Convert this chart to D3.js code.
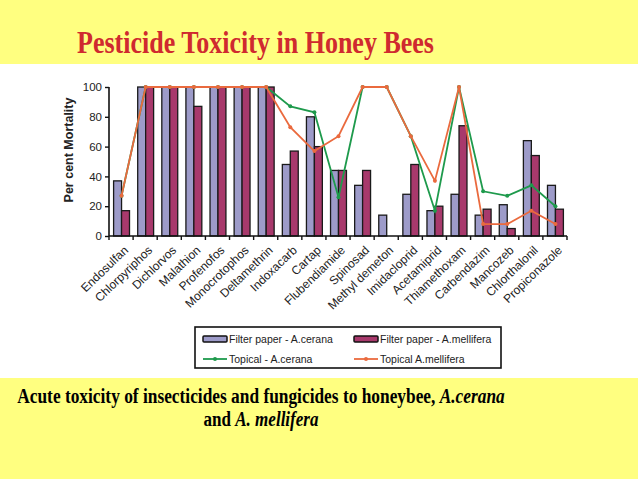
<!DOCTYPE html>
<html><head><meta charset="utf-8">
<script src="https://cdn.jsdelivr.net/npm/d3@7"></script>
<style>body{margin:0;background:#fff}svg{display:block}</style>
</head><body>
<svg id="c" width="638" height="479"></svg>
<script>
const categories = ["Endosulfan","Chlorpyriphos","Dichlorvos","Malathion","Profenofos","Monocrotophos","Deltamethrin","Indoxacarb","Cartap","Flubendiamide","Spinosad","Methyl demeton","Imidacloprid","Acetamiprid","Thiamethoxam","Carbendazim","Mancozeb","Chlorthalonil","Propiconazole"];
const filterCerana    = [37,100,100,100,100,100,100,48,80,44,34,14,28,17,28,14,21,64,34];
const filterMellifera = [17,100,100,87,100,100,100,57,60,44,44,0,48,20,74,18,5,54,18];
const topicalCerana   = [27,100,100,100,100,100,100,87,83,26,100,100,67,17,100,30,27,34,20];
const topicalMellifera= [27,100,100,100,100,100,100,73,57,67,100,100,67,37,100,8,8,17,8];
const yTicks = [0,20,40,60,80,100];
const legendLabels = ["Filter paper - A.cerana","Filter paper - A.mellifera","Topical - A.cerana","Topical A.mellifera"];

const C_PUR="#9d9bc9", C_MAG="#a8396c", C_GRN="#1e9a4c", C_ORG="#ea6a3e", YEL="#ffff80";
const svg = d3.select("#c");
const W=638,H=479;

svg.append("rect").attr("x",0).attr("y",0).attr("width",W).attr("height",64).attr("fill",YEL);
svg.append("rect").attr("x",0).attr("y",378).attr("width",W).attr("height",H-378).attr("fill",YEL);

function squeezed(cx, by, size, color, parts, targetW){
  const g = svg.append("g");
  const t = g.append("text").attr("x",0).attr("y",0).attr("text-anchor","middle")
    .attr("font-family","Liberation Serif").attr("font-weight","bold").attr("font-size",size).attr("fill",color);
  parts.forEach(p=>{ const s=t.append("tspan").text(p.t); if(p.i) s.attr("font-style","italic"); });
  const w = t.node().getComputedTextLength();
  g.attr("transform",`translate(${cx},${by}) scale(${targetW/w},1)`);
}
squeezed(255.5,53,32,"#cf2a2f",[{t:"Pesticide Toxicity in Honey Bees"}],357);
squeezed(261,403,22,"#000",[{t:"Acute toxicity of insecticides and fungicides to honeybee, "},{t:"A.cerana",i:true}],488);
squeezed(261,426,22,"#000",[{t:"and "},{t:"A. mellifera",i:true}],115);

const x0=109, x1=567, yBase=236, yTop=87;
const x = d3.scaleBand().domain(categories).range([x0,x1]).padding(0);
const y = d3.scaleLinear().domain([0,100]).range([yBase,yTop]);
const bw = x.bandwidth();
const barW = bw*0.33;

const g = svg.append("g");
const bars = g.append("g");
categories.forEach((c,i)=>{
  const cx = x(c)+bw/2+0.5;
  [[filterCerana[i],C_PUR,cx-barW],[filterMellifera[i],C_MAG,cx]].forEach(([v,col,bx])=>{
    if(v<=0) return;
    bars.append("rect").attr("x",bx).attr("y",y(v)).attr("width",barW).attr("height",y(0)-y(v))
      .attr("fill",col).attr("stroke","#1a1a1a").attr("stroke-width",1.3);
  });
});

const line = d3.line().x((d,i)=>x(categories[i])+bw/2+0.5).y(d=>y(d));
[[topicalCerana,C_GRN],[topicalMellifera,C_ORG]].forEach(([arr,col])=>{
  g.append("path").datum(arr).attr("d",line).attr("fill","none").attr("stroke",col).attr("stroke-width",1.8);
  g.selectAll(null).data(arr).enter().append("circle")
    .attr("cx",(d,i)=>x(categories[i])+bw/2+0.5).attr("cy",d=>y(d)).attr("r",2).attr("fill",col);
});

const yAxis = d3.axisLeft(y).tickValues(yTicks).tickSize(4).tickPadding(3);
const ya = svg.append("g").attr("transform",`translate(${x0},0)`).call(yAxis);
ya.select(".domain").attr("stroke","#111").attr("stroke-width",1.6).attr("d",`M-0,${yBase}V${yTop}`);
ya.selectAll(".tick line").attr("stroke","#111").attr("stroke-width",1.4);
ya.selectAll(".tick text").attr("font-family","Liberation Sans").attr("font-size",11.5).attr("fill","#222");

const xa = svg.append("g").attr("transform",`translate(0,${yBase})`);
xa.append("line").attr("x1",x0).attr("x2",x1).attr("y1",0).attr("y2",0).attr("stroke","#111").attr("stroke-width",1.6);
const bounds = categories.map(c=>x(c)).concat([x1]);
xa.selectAll(null).data(bounds).enter().append("line")
  .attr("x1",d=>d).attr("x2",d=>d).attr("y1",0).attr("y2",4).attr("stroke","#111").attr("stroke-width",1.4);
xa.selectAll(null).data(categories).enter().append("text")
  .attr("transform",c=>`translate(${x(c)+bw/2+5},${12}) rotate(-44)`)
  .attr("text-anchor","end").attr("dy","0.35em")
  .attr("font-family","Liberation Sans").attr("font-size",12).attr("fill","#222").text(c=>c);

svg.append("text").attr("transform",`translate(73,150) rotate(-90)`).attr("text-anchor","middle")
  .attr("font-family","Liberation Sans").attr("font-weight","bold").attr("font-size",12.5).attr("fill","#222")
  .text("Per cent Mortality");

const lg = svg.append("g");
lg.append("rect").attr("x",195).attr("y",327).attr("width",306).attr("height",41)
  .attr("fill","#fff").attr("stroke","#111").attr("stroke-width",1.6);
const items = [
  {t:legendLabels[0],type:"bar",col:C_PUR,x:203,y:339},
  {t:legendLabels[1],type:"bar",col:C_MAG,x:354,y:339},
  {t:legendLabels[2],type:"line",col:C_GRN,x:203,y:359},
  {t:legendLabels[3],type:"line",col:C_ORG,x:354,y:359}
];
items.forEach(it=>{
  if(it.type==="bar"){
    lg.append("rect").attr("x",it.x).attr("y",it.y-3).attr("width",24).attr("height",6)
      .attr("fill",it.col).attr("stroke","#111").attr("stroke-width",1.5).attr("rx",1);
  } else {
    lg.append("line").attr("x1",it.x).attr("x2",it.x+24).attr("y1",it.y).attr("y2",it.y).attr("stroke",it.col).attr("stroke-width",1.8);
    lg.append("circle").attr("cx",it.x+12).attr("cy",it.y).attr("r",2).attr("fill",it.col);
  }
  lg.append("text").attr("x",it.x+26).attr("y",it.y).attr("dy","0.35em")
    .attr("font-family","Liberation Sans").attr("font-size",10.5).attr("fill","#222").text(it.t);
});
</script>
</body></html>
